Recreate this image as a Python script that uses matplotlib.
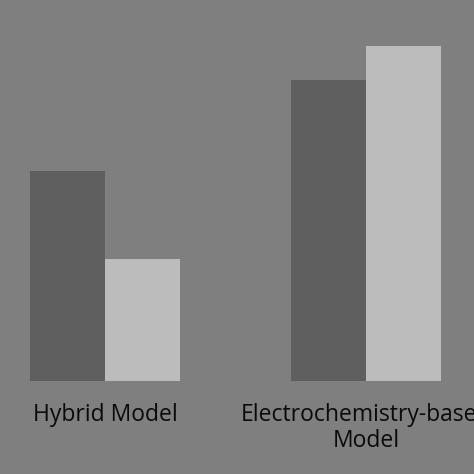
import matplotlib
matplotlib.use("Agg")
import matplotlib.pyplot as plt

categories = ["Hybrid Model", "Electrochemistry-based\nModel"]
series_dark = [210, 301]
series_light = [122, 335]

fig = plt.figure(figsize=(4.74, 4.74), dpi=100, facecolor="#7f7f7f")
ax = fig.add_axes([0, 0, 1, 1])
ax.set_facecolor("#7f7f7f")
w = 0.287
x = [0, 1]
ax.bar([i - w / 2 for i in x], series_dark, w, color="#5f5f5f")
ax.bar([i + w / 2 for i in x], series_light, w, color="#bcbcbc")
ax.set_xlim(-0.402, 1.414)
ax.set_ylim(-93, 381)
for i, c in zip(x, categories):
    ax.text(i, -22, c, ha="center", va="top", fontsize=16.5, color="#0a0a0a",
            family=["Open Sans", "DejaVu Sans"], linespacing=1.1, clip_on=False)
ax.axis("off")
fig.savefig("out.png", dpi=100, facecolor=fig.get_facecolor())
